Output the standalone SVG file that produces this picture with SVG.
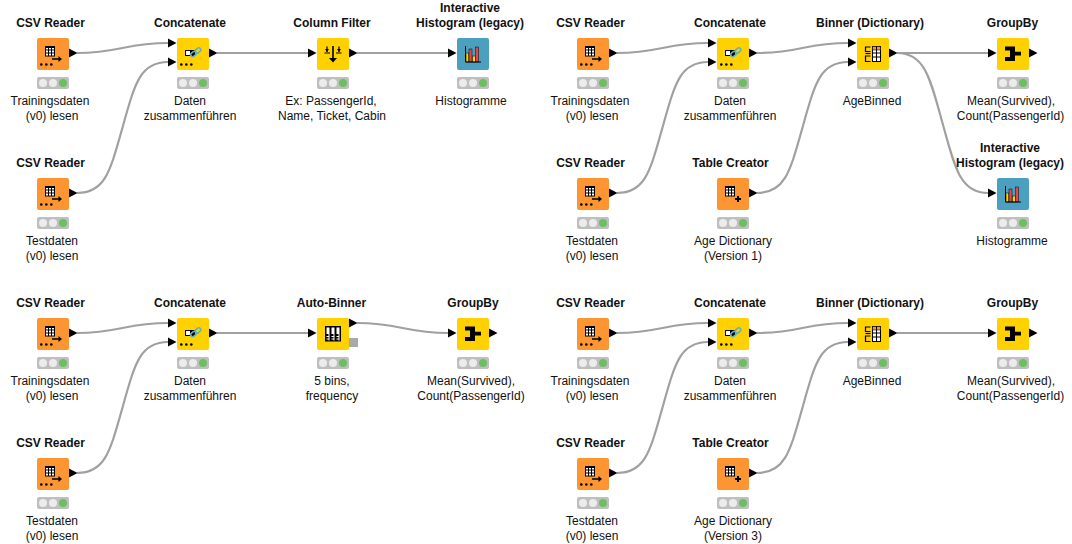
<svg xmlns="http://www.w3.org/2000/svg" xmlns:xlink="http://www.w3.org/1999/xlink" width="1072" height="544" viewBox="0 0 1072 544">
<style>
text{font-family:"Liberation Sans",Arial,Helvetica,sans-serif;font-size:12px;fill:#111;text-anchor:middle}
.t{font-weight:bold}
.c{fill:none;stroke:#a0a0a0;stroke-width:2.2}
.src{fill:#FD9632}.man{fill:#FFD100}.viz{fill:#4B9FBF}
.port{fill:#000}
</style>
<defs>
<path id="pt" d="M0-4.500L8.500 0L0 4.500Z" class="port"/>
<g id="st"><rect x="0" y="39" width="32" height="12" rx="2" fill="#BFBFBF"/><circle cx="6" cy="45" r="4" fill="#ECECEC"/><circle cx="16" cy="45" r="4" fill="#ECECEC"/><circle cx="26" cy="45" r="4" fill="#6BBF5F"/></g>
<g id="dots"><circle cx="4.300" cy="26.500" r="1.300"/><circle cx="9.300" cy="26.500" r="1.300"/><circle cx="14.300" cy="26.500" r="1.300"/></g>
<g id="tbl"><rect x="8.500" y="8.500" width="9" height="9.500" fill="#fff" stroke="#000"/><path d="M8.500 9.500H17.500M8.500 12H17.500M8.500 15H17.500M11.500 8.500V18M14.500 8.500V18" stroke="#000" stroke-width="1" fill="none"/></g>
<g id="i-csv"><rect width="32" height="32" rx="2" class="src"/><use xlink:href="#tbl"/><path d="M15 21H22" stroke="#000" stroke-width="1.500"/><path d="M21.500 18L25 21L21.500 24Z"/><use xlink:href="#dots"/></g>
<g id="i-tc"><rect width="32" height="32" rx="2" class="src"/><use xlink:href="#tbl"/><path d="M18 21H24M21 18V24" stroke="#000" stroke-width="2"/></g>
<g id="i-con"><rect width="32" height="32" rx="2" class="man"/><rect x="8.500" y="12.500" width="9" height="5" fill="#fff" stroke="#000"/><rect x="13" y="12.500" width="4.500" height="5" fill="#000"/><g fill="none" stroke="#5FB0C8" stroke-width="1.600"><rect x="13.500" y="14" width="6" height="4" rx="2" transform="rotate(-40 16.500 16)"/><rect x="18" y="10.500" width="6" height="4" rx="2" transform="rotate(-40 21 12.500)"/></g><use xlink:href="#dots"/></g>
<g id="i-cf"><rect width="32" height="32" rx="2" class="man"/><path d="M10 8.500V14M22 8.500V14M7.500 15H13M19 15H24.500" stroke="#000" stroke-width="1.200" fill="none"/><path d="M8 11L10 14L12 11ZM20 11L22 14L24 11Z"/><path d="M12 20H20L16 24.500Z"/><path d="M16 8V22" stroke="#000" stroke-width="1.600"/></g>
<g id="i-hist"><rect width="32" height="32" rx="2" class="viz"/><rect x="9" y="15" width="2.800" height="9" fill="#FFD100" stroke="#000" stroke-width=".5"/><rect x="12" y="11" width="3" height="13" fill="#E8464E" stroke="#000" stroke-width=".5"/><rect x="15.500" y="18" width="2.800" height="6" fill="#FFD100" stroke="#000" stroke-width=".5"/><rect x="18.500" y="9" width="3" height="15" fill="#E8464E" stroke="#000" stroke-width=".5"/><path d="M8.500 8V24H24" stroke="#000" stroke-width="1" fill="none"/></g>
<g id="i-gb"><rect width="32" height="32" rx="2" class="man"/><path d="M8 8.500H18V13.700H24V17.500H18V23H8V19H13V12.500H8Z"/></g>
<g id="i-bd"><rect width="32" height="32" rx="2" class="man"/><path d="M13.500 9H8.500V13.500H13.500M13.500 18H8.500V23.500H13.500" fill="none" stroke="#000" stroke-width="1.200"/><path d="M8.500 15.500H13.500" stroke="#000" stroke-width="1.200"/><rect x="15.500" y="8.500" width="8" height="15" fill="#fff" stroke="#000"/><rect x="15.500" y="8.500" width="8" height="3.500" fill="#FD9632" stroke="#000" stroke-width=".6"/><path d="M15.500 15H23.500M15.500 19H23.500M19.500 8.500V23.500" stroke="#000" stroke-width="1" fill="none"/></g>
<g id="i-ab"><rect width="32" height="32" rx="2" class="man"/><rect x="8" y="8" width="16" height="15.500"/><path d="M9.500 9.500H12.500V16H9.500ZM14.500 9.500H17.500V16H14.500ZM19.500 9.500H22.500V16H19.500Z" fill="#fff"/><path d="M12 16V22.500M17 16V22.500M22 16V22.500M9.500 18.500H12M9.500 21H12M14.500 18.500H17M14.500 21H17M19.500 18.500H22M19.500 21H22" stroke="#fff" stroke-width="1" fill="none"/></g>
</defs>

<g id="connectors">
<path class="c" d="M77 53C120 53 125 43 168 43"/>
<path class="c" d="M77 193C105 193 110 172 122.500 127.500C135 83 140 62 168 62"/>
<path class="c" d="M217 53H308"/>
<path class="c" d="M357 53H448"/>
<path class="c" d="M77 333C120 333 125 323 168 323"/>
<path class="c" d="M77 473C105 473 110 452 122.500 407.500C135 363 140 342 168 342"/>
<path class="c" d="M217 333H308"/>
<path class="c" d="M357 323C400 323 405 333 448 333"/>
<path class="c" d="M617 53C660 53 665 43 708 43"/>
<path class="c" d="M617 193C645 193 650 172 662.500 127.500C675 83 680 62 708 62"/>
<path class="c" d="M757 53C800 53 805 43 848 43"/>
<path class="c" d="M757 193C785 193 790 172 802.500 127.500C815 83 820 62 848 62"/>
<path class="c" d="M897 53H988"/>
<path class="c" d="M897 53C925 53 930 78 942.500 123C955 168 960 193 988 193"/>
<path class="c" d="M617 333C660 333 665 323 708 323"/>
<path class="c" d="M617 473C645 473 650 452 662.500 407.500C675 363 680 342 708 342"/>
<path class="c" d="M757 333C800 333 805 323 848 323"/>
<path class="c" d="M757 473C785 473 790 452 802.500 407.500C815 363 820 342 848 342"/>
<path class="c" d="M897 333H988"/>
</g>

<g id="n1" transform="translate(37 38)"><text class="t" x="13.500" y="-11">CSV Reader</text><use xlink:href="#i-csv"/><use xlink:href="#pt" x="32" y="15"/><use xlink:href="#st"/><text x="13" y="67">Trainingsdaten</text><text x="15" y="82">(v0) lesen</text></g>
<g id="n2" transform="translate(177 38)"><text class="t" x="13" y="-11">Concatenate</text><use xlink:href="#pt" x="-9" y="5"/><use xlink:href="#pt" x="-9" y="24"/><use xlink:href="#i-con"/><use xlink:href="#pt" x="32" y="15"/><use xlink:href="#st"/><text x="13" y="67">Daten</text><text x="13" y="82">zusammenführen</text></g>
<g id="n3" transform="translate(317 38)"><text class="t" x="15" y="-11">Column Filter</text><use xlink:href="#pt" x="-9" y="15"/><use xlink:href="#i-cf"/><use xlink:href="#pt" x="32" y="15"/><use xlink:href="#st"/><text x="14" y="67">Ex: PassengerId,</text><text x="15" y="82">Name, Ticket, Cabin</text></g>
<g id="n4" transform="translate(457 38)"><text class="t" x="13" y="-26">Interactive</text><text class="t" x="13" y="-11">Histogram (legacy)</text><use xlink:href="#pt" x="-9" y="15"/><use xlink:href="#i-hist"/><use xlink:href="#st"/><text x="14" y="67">Histogramme</text></g>
<g id="n5" transform="translate(37 178)"><text class="t" x="13.500" y="-11">CSV Reader</text><use xlink:href="#i-csv"/><use xlink:href="#pt" x="32" y="15"/><use xlink:href="#st"/><text x="15" y="67">Testdaten</text><text x="15" y="82">(v0) lesen</text></g>

<g id="n6" transform="translate(37 318)"><text class="t" x="13.500" y="-11">CSV Reader</text><use xlink:href="#i-csv"/><use xlink:href="#pt" x="32" y="15"/><use xlink:href="#st"/><text x="13" y="67">Trainingsdaten</text><text x="15" y="82">(v0) lesen</text></g>
<g id="n7" transform="translate(177 318)"><text class="t" x="13" y="-11">Concatenate</text><use xlink:href="#pt" x="-9" y="5"/><use xlink:href="#pt" x="-9" y="24"/><use xlink:href="#i-con"/><use xlink:href="#pt" x="32" y="15"/><use xlink:href="#st"/><text x="13" y="67">Daten</text><text x="13" y="82">zusammenführen</text></g>
<g id="n8" transform="translate(317 318)"><text class="t" x="14.500" y="-11">Auto-Binner</text><use xlink:href="#pt" x="-9" y="15"/><use xlink:href="#i-ab"/><use xlink:href="#pt" x="32" y="5"/><rect x="32" y="20" width="9" height="9" fill="#A9A9A9"/><use xlink:href="#st"/><text x="15" y="67">5 bins,</text><text x="15" y="82">frequency</text></g>
<g id="n9" transform="translate(457 318)"><text class="t" x="16" y="-11">GroupBy</text><use xlink:href="#pt" x="-9" y="15"/><use xlink:href="#i-gb"/><use xlink:href="#pt" x="32" y="15"/><use xlink:href="#st"/><text x="14" y="67">Mean(Survived),</text><text x="14" y="82">Count(PassengerId)</text></g>
<g id="n10" transform="translate(37 458)"><text class="t" x="13.500" y="-11">CSV Reader</text><use xlink:href="#i-csv"/><use xlink:href="#pt" x="32" y="15"/><use xlink:href="#st"/><text x="15" y="67">Testdaten</text><text x="15" y="82">(v0) lesen</text></g>

<g id="n11" transform="translate(577 38)"><text class="t" x="13.500" y="-11">CSV Reader</text><use xlink:href="#i-csv"/><use xlink:href="#pt" x="32" y="15"/><use xlink:href="#st"/><text x="13" y="67">Trainingsdaten</text><text x="15" y="82">(v0) lesen</text></g>
<g id="n12" transform="translate(717 38)"><text class="t" x="13" y="-11">Concatenate</text><use xlink:href="#pt" x="-9" y="5"/><use xlink:href="#pt" x="-9" y="24"/><use xlink:href="#i-con"/><use xlink:href="#pt" x="32" y="15"/><use xlink:href="#st"/><text x="13" y="67">Daten</text><text x="13" y="82">zusammenführen</text></g>
<g id="n13" transform="translate(857 38)"><text class="t" x="13" y="-11">Binner (Dictionary)</text><use xlink:href="#pt" x="-9" y="5"/><use xlink:href="#pt" x="-9" y="24"/><use xlink:href="#i-bd"/><use xlink:href="#pt" x="32" y="15"/><use xlink:href="#st"/><text x="15" y="67">AgeBinned</text></g>
<g id="n14" transform="translate(997 38)"><text class="t" x="15.500" y="-11">GroupBy</text><use xlink:href="#pt" x="-9" y="15"/><use xlink:href="#i-gb"/><use xlink:href="#pt" x="32" y="15"/><use xlink:href="#st"/><text x="14" y="67">Mean(Survived),</text><text x="13.500" y="82">Count(PassengerId)</text></g>
<g id="n15" transform="translate(577 178)"><text class="t" x="13.500" y="-11">CSV Reader</text><use xlink:href="#i-csv"/><use xlink:href="#pt" x="32" y="15"/><use xlink:href="#st"/><text x="15" y="67">Testdaten</text><text x="15" y="82">(v0) lesen</text></g>
<g id="n16" transform="translate(717 178)"><text class="t" x="13.500" y="-11">Table Creator</text><use xlink:href="#i-tc"/><use xlink:href="#pt" x="32" y="15"/><use xlink:href="#st"/><text x="16" y="67">Age Dictionary</text><text x="16" y="82">(Version 1)</text></g>
<g id="n17" transform="translate(997 178)"><text class="t" x="13" y="-26">Interactive</text><text class="t" x="13" y="-11">Histogram (legacy)</text><use xlink:href="#pt" x="-9" y="15"/><use xlink:href="#i-hist"/><use xlink:href="#st"/><text x="15" y="67">Histogramme</text></g>

<g id="n18" transform="translate(577 318)"><text class="t" x="13.500" y="-11">CSV Reader</text><use xlink:href="#i-csv"/><use xlink:href="#pt" x="32" y="15"/><use xlink:href="#st"/><text x="13" y="67">Trainingsdaten</text><text x="15" y="82">(v0) lesen</text></g>
<g id="n19" transform="translate(717 318)"><text class="t" x="13" y="-11">Concatenate</text><use xlink:href="#pt" x="-9" y="5"/><use xlink:href="#pt" x="-9" y="24"/><use xlink:href="#i-con"/><use xlink:href="#pt" x="32" y="15"/><use xlink:href="#st"/><text x="13" y="67">Daten</text><text x="13" y="82">zusammenführen</text></g>
<g id="n20" transform="translate(857 318)"><text class="t" x="13" y="-11">Binner (Dictionary)</text><use xlink:href="#pt" x="-9" y="5"/><use xlink:href="#pt" x="-9" y="24"/><use xlink:href="#i-bd"/><use xlink:href="#pt" x="32" y="15"/><use xlink:href="#st"/><text x="15" y="67">AgeBinned</text></g>
<g id="n21" transform="translate(997 318)"><text class="t" x="15.500" y="-11">GroupBy</text><use xlink:href="#pt" x="-9" y="15"/><use xlink:href="#i-gb"/><use xlink:href="#pt" x="32" y="15"/><use xlink:href="#st"/><text x="14" y="67">Mean(Survived),</text><text x="13.500" y="82">Count(PassengerId)</text></g>
<g id="n22" transform="translate(577 458)"><text class="t" x="13.500" y="-11">CSV Reader</text><use xlink:href="#i-csv"/><use xlink:href="#pt" x="32" y="15"/><use xlink:href="#st"/><text x="15" y="67">Testdaten</text><text x="15" y="82">(v0) lesen</text></g>
<g id="n23" transform="translate(717 458)"><text class="t" x="13.500" y="-11">Table Creator</text><use xlink:href="#i-tc"/><use xlink:href="#pt" x="32" y="15"/><use xlink:href="#st"/><text x="16" y="67">Age Dictionary</text><text x="16" y="82">(Version 3)</text></g>
</svg>
